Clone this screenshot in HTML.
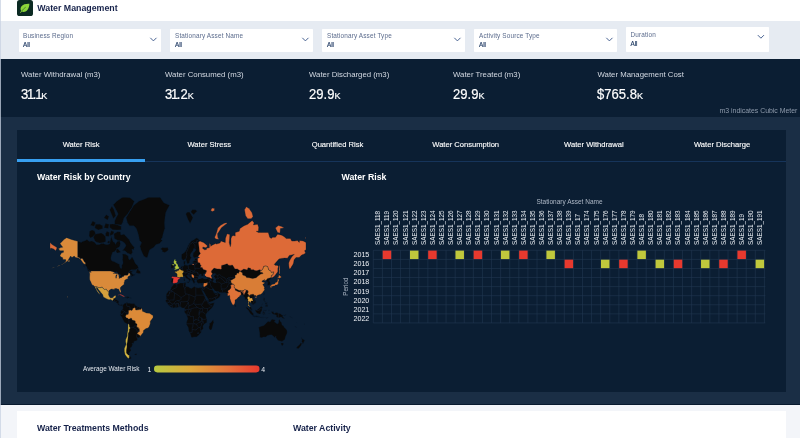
<!DOCTYPE html>
<html><head><meta charset="utf-8"><title>Water Management</title>
<style>
*{box-sizing:border-box;margin:0;padding:0}
html,body{width:800px;height:438px;overflow:hidden}
body{position:relative;background:#f3f5f9;font-family:"Liberation Sans",sans-serif;color:#16325c}
.abs{position:absolute}
.t{position:absolute;white-space:nowrap;line-height:1}
#hdr{left:0;top:0;width:800px;height:21px;background:#fff}
#fbar{left:0;top:21px;width:800px;height:38px;background:#e6ebf2}
.fb{position:absolute;top:28.5px;height:23.3px;width:142.5px;background:#fff;border-radius:.8px}
.fl{font-size:6.4px;color:#5b6b8c;letter-spacing:.15px}
.fv{font-size:6.3px;color:#16325c;-webkit-text-stroke:.15px #16325c}
#kpi{left:0;top:58.6px;width:800px;height:58.2px;background:#0b1e33}
#sec{left:0;top:116.8px;width:800px;height:287.9px;background:#1a2e45;border-bottom:1.2px solid #08192e}
#card{left:17px;top:129.5px;width:769px;height:262.3px;background:#0b1e33}
.kl{font-size:7.8px;color:#d3d9e2}
.kv{font-size:14.2px;color:#fff;-webkit-text-stroke:.2px #fff;transform:scaleX(.92);transform-origin:0 0}
.kv span{font-size:9.9px}
.kv i{font-style:normal;margin:0 -1.45px}
.tab{position:absolute;top:130.2px;width:128.2px;height:30px;text-align:center;font-size:7.6px;color:#fff;line-height:30px;-webkit-text-stroke:.12px #fff;white-space:nowrap}
#lstrip{left:0;top:0;width:1.4px;height:438px;background:rgba(200,210,225,.75)}
#wcard{left:17px;top:411px;width:769px;height:40px;background:#fff}
.h2{font-weight:bold;font-size:8.75px}
</style></head><body>
<div class="abs" id="hdr"></div>
<div class="abs" id="fbar"></div>
<div class="abs" id="kpi"></div>
<div class="abs" id="sec"></div>
<div class="abs" id="card"></div>
<div class="abs" id="wcard"></div>

<!-- header -->
<div class="abs" style="left:16.9px;top:-.3px;width:16px;height:16.4px;border-radius:2.6px;background:#0b2a22"></div>
<svg class="abs" style="left:16.9px;top:0" width="16" height="16.1" viewBox="0 0 16 16.1"><path d="M12.4 3.8C9.5 3.6 6 4.2 4.3 6.6C3.2 8.2 3.4 9.8 4.2 10.9L3 12.6L3.5 13.1L4.9 11.5C6.5 12.3 8.8 11.9 10.2 10.2C11.8 8.3 12.4 6 12.4 3.8Z" fill="#8cd63a"/><path d="M4.7 11.1C5.8 9.5 7 8.3 8.7 7.2" stroke="#2c6a2a" stroke-width=".7" fill="none"/></svg>
<div class="t" style="left:37.3px;top:4.1px;font-size:8.8px;font-weight:bold;color:#16224a">Water Management</div>

<!-- filters -->
<div class="fb" style="left:18.5px"></div>
<div class="fb" style="left:170.3px"></div>
<div class="fb" style="left:322.3px"></div>
<div class="fb" style="left:474.3px"></div>
<div class="fb" style="left:626.2px;top:27.1px;height:25.2px;width:143.3px"></div>
<div class="t fl" style="left:23px;top:33px">Business Region</div><div class="t fv" style="left:23px;top:41.7px">All</div>
<div class="t fl" style="left:175px;top:33px">Stationary Asset Name</div><div class="t fv" style="left:175px;top:41.7px">All</div>
<div class="t fl" style="left:327px;top:33px">Stationary Asset Type</div><div class="t fv" style="left:327px;top:41.7px">All</div>
<div class="t fl" style="left:479px;top:33px">Activity Source Type</div><div class="t fv" style="left:479px;top:41.7px">All</div>
<div class="t fl" style="left:630.5px;top:32.3px">Duration</div><div class="t fv" style="left:630.5px;top:40.6px">All</div>
<svg class="abs" style="left:0;top:0" width="800" height="60" viewBox="0 0 800 60" fill="none" stroke="#3f5b8c" stroke-width=".95" stroke-linecap="round" stroke-linejoin="round">
<path d="M150.6 38.1l2.8 2.8 2.8-2.8"/><path d="M302.6 38.1l2.8 2.8 2.8-2.8"/><path d="M454.6 38.1l2.8 2.8 2.8-2.8"/><path d="M606.6 38.1l2.8 2.8 2.8-2.8"/><path d="M758.1 35.4l2.8 2.8 2.8-2.8"/></svg>

<!-- KPIs -->
<div class="t kl" style="left:21px;top:71.2px">Water Withdrawal (m3)</div><div class="t kv" style="left:20.5px;top:87px">3<i>1</i>.<i>1</i><span>K</span></div>
<div class="t kl" style="left:165px;top:71.2px">Water Consumed (m3)</div><div class="t kv" style="left:164.5px;top:87px">3<i>1</i>.2<span>K</span></div>
<div class="t kl" style="left:309px;top:71.2px">Water Discharged (m3)</div><div class="t kv" style="left:308.5px;top:87px">29.9<span>K</span></div>
<div class="t kl" style="left:453px;top:71.2px">Water Treated (m3)</div><div class="t kv" style="left:452.5px;top:87px">29.9<span>K</span></div>
<div class="t kl" style="left:597.5px;top:71.2px">Water Management Cost</div><div class="t kv" style="left:597px;top:87px">$765.8<span>K</span></div>
<div class="t" style="right:2.7px;top:107.7px;font-size:6.9px;color:#8f9bac">m3 indicates Cubic Meter</div>

<!-- tabs -->
<div class="tab" style="left:17px">Water Risk</div>
<div class="tab" style="left:145.2px">Water Stress</div>
<div class="tab" style="left:273.4px">Quantified Risk</div>
<div class="tab" style="left:401.6px">Water Consumption</div>
<div class="tab" style="left:529.8px">Water Withdrawal</div>
<div class="tab" style="left:658px">Water Discharge</div>
<div class="abs" style="left:17px;top:160.9px;width:769px;height:.8px;background:#16345a"></div>
<div class="abs" style="left:17px;top:159.1px;width:128.2px;height:2.6px;background:#379ff0"></div>

<div class="t h2" style="left:37px;top:172.8px;color:#fff">Water Risk by Country</div>
<div class="t h2" style="left:341.5px;top:172.8px;color:#fff">Water Risk</div>

<svg class="abs" style="left:0;top:0" width="800" height="438" viewBox="0 0 800 438">
<defs><clipPath id="mc"><rect x="48" y="197.4" width="260" height="175"/></clipPath><linearGradient id="lg" x1="0" x2="1" y1="0" y2="0"><stop offset="0" stop-color="#b7c940"/><stop offset=".35" stop-color="#dba53a"/><stop offset=".7" stop-color="#e3703a"/><stop offset="1" stop-color="#e8392e"/></linearGradient></defs>
<g clip-path="url(#mc)" stroke="#0b1e33" stroke-width="0.3" stroke-linejoin="round">
<path d="M199.9 240.9L201.5 241.7L203.6 242.5L207.2 245.4L207.2 247.0L205.4 247.8L202.9 247.0L202.7 248.5L204.7 249.8L206.4 249.5L206.8 248.1L209.3 247.8L209.4 244.5L208.9 243.3L210.7 244.5L210.7 246.3L212.1 245.2L215.7 243.5L216.4 244.1L220.0 242.9L221.0 240.9L223.5 241.9L225.3 242.5L225.4 238.4L227.1 233.8L229.8 234.5L229.6 238.4L229.2 242.5L230.3 246.7L231.0 243.5L231.0 238.4L232.0 236.1L233.8 235.4L235.2 236.1L235.2 232.5L239.2 231.3L239.9 228.6L244.1 225.7L247.7 224.3L252.2 220.4L254.1 222.7L253.4 224.9L257.6 224.3L258.7 227.2L258.4 231.3L256.2 231.3L258.4 232.5L261.9 232.5L265.5 232.5L268.3 232.5L269.7 237.3L271.2 238.4L272.6 237.3L275.4 237.3L277.6 234.2L281.8 235.2L284.7 237.0L286.1 238.6L290.4 238.4L291.8 241.1L294.6 241.1L297.5 240.5L299.2 242.5L299.6 240.5L303.2 240.9L306.0 242.5L306.0 249.8L304.6 250.7L305.6 253.1L303.9 254.2L301.7 254.9L299.2 257.5L296.0 257.5L294.3 259.6L293.9 260.7L293.6 262.7L293.1 264.2L291.6 266.6L290.7 268.3L289.4 268.9L288.9 266.6L288.7 262.9L289.6 260.6L291.8 256.8L294.3 254.3L291.8 254.9L289.3 255.4L287.5 258.2L284.7 258.1L281.5 258.4L279.0 258.9L276.1 262.3L274.2 264.4L275.8 265.4L277.2 265.2L278.5 266.4L277.9 268.3L277.8 271.7L276.1 274.1L274.4 276.3L272.6 277.5L271.2 277.7L270.9 277.9L270.2 278.7L270.2 279.5L268.7 280.3L269.3 281.3L270.1 282.8L270.1 284.3L269.2 284.9L267.7 285.2L267.7 284.2L267.8 283.0L267.9 282.3L266.7 282.0L266.9 280.7L266.4 280.1L264.4 281.1L264.6 279.4L263.0 280.6L261.8 281.0L262.5 282.1L263.7 282.2L265.1 282.7L263.7 283.7L262.8 284.6L263.9 286.3L264.6 287.6L264.0 288.4L264.8 289.0L264.4 290.2L263.3 291.6L262.6 292.7L261.6 293.8L260.5 294.5L259.1 294.8L257.3 295.5L256.4 296.5L256.0 295.5L254.8 295.5L253.9 296.3L253.2 297.4L254.1 299.1L255.4 300.2L255.8 302.0L255.5 303.0L254.1 303.8L252.9 305.0L252.6 304.1L251.6 303.6L251.2 302.8L249.8 302.1L249.5 301.5L249.1 301.7L248.8 303.3L248.5 304.4L249.3 305.3L249.5 306.1L250.5 306.7L251.5 308.0L251.6 309.4L252.1 310.2L251.5 310.1L250.0 309.2L249.4 307.3L249.2 306.6L248.8 306.1L247.9 305.5L248.2 304.1L248.1 302.6L247.7 301.1L247.4 299.3L246.3 299.1L245.1 299.7L245.2 298.2L244.5 296.8L243.6 296.1L243.2 294.8L242.4 294.9L241.3 295.3L239.9 295.5L239.7 296.5L238.6 297.1L236.5 299.2L235.0 300.0L235.1 301.7L234.7 303.8L234.2 304.6L233.6 304.8L233.1 305.4L232.3 304.2L231.3 302.4L230.6 300.4L229.9 298.6L229.8 297.4L229.7 295.9L229.4 295.3L228.1 296.1L227.1 294.9L228.0 294.4L226.5 293.8L225.8 293.0L225.3 292.5L222.1 292.7L221.7 292.8L218.7 292.3L218.4 291.2L216.8 291.6L214.6 290.6L213.7 288.8L212.8 288.5L212.1 288.9L212.5 290.1L213.6 291.5L213.7 292.3L214.1 293.0L214.4 292.0L214.7 293.1L216.4 293.5L217.8 292.0L218.1 293.0L219.7 293.9L220.5 294.8L219.6 296.4L219.0 297.4L217.3 298.6L215.1 299.7L212.6 301.1L210.0 302.0L208.9 302.1L208.4 300.4L208.2 299.3L207.2 297.4L205.9 295.5L204.5 292.8L203.0 290.4L202.8 289.2L202.5 290.4L202.3 290.7L201.6 290.0L201.1 288.9L201.0 287.8L202.3 287.7L202.9 286.5L203.3 285.2L203.5 284.2L203.7 283.3L202.5 283.1L201.1 283.6L199.8 283.0L198.8 283.5L197.5 282.8L196.7 281.7L197.1 280.7L196.6 280.1L197.6 279.7L198.6 279.4L198.6 279.2L197.6 279.2L197.0 279.7L196.5 279.4L195.4 279.3L194.9 280.1L194.1 279.7L194.2 280.8L194.7 281.5L195.1 282.2L194.4 282.4L194.2 283.3L193.4 283.0L193.1 281.7L192.4 280.5L191.9 279.8L191.8 278.4L191.2 277.8L189.7 276.9L188.9 276.1L188.3 275.1L187.7 275.3L187.7 274.6L186.8 274.9L186.8 276.0L187.7 276.8L188.5 278.1L189.4 278.3L191.1 279.7L191.1 280.2L190.1 279.7L189.8 280.4L190.2 281.0L189.7 281.6L189.2 281.9L189.4 281.2L189.1 280.1L187.8 279.0L186.7 278.4L185.5 277.4L185.3 276.4L184.3 275.9L183.3 276.5L182.4 277.2L181.2 276.9L180.3 277.1L180.2 277.8L180.3 278.3L178.6 279.2L177.8 280.6L178.0 281.3L177.5 282.3L176.4 283.1L174.8 283.1L174.0 283.7L173.5 283.2L172.7 282.7L171.7 282.8L171.2 281.2L171.7 279.9L171.7 278.2L171.5 277.3L172.3 276.6L173.9 276.7L175.3 276.8L176.8 276.9L177.1 275.7L177.1 274.3L176.2 272.9L174.9 272.4L174.7 271.8L175.9 271.3L176.9 271.4L176.8 270.4L177.1 270.7L178.1 270.6L179.1 269.9L179.1 269.1L179.8 268.8L180.3 268.6L181.0 267.8L181.6 266.4L183.0 266.1L184.0 265.9L184.1 264.8L183.8 263.5L183.8 261.6L185.5 261.0L185.0 263.5L185.1 264.8L185.8 265.4L186.5 265.2L188.1 265.5L189.7 264.8L191.2 264.5L192.1 264.9L192.9 263.8L192.9 261.9L194.0 260.8L195.3 260.6L194.7 259.4L195.4 258.4L197.9 258.2L199.5 257.5L198.3 256.8L197.8 256.7L195.8 257.3L194.4 257.7L193.3 256.8L193.1 255.4L193.3 253.1L195.1 251.5L196.0 249.8L195.1 248.5L193.6 248.6L192.9 250.7L191.5 252.6L190.2 254.6L190.3 256.5L191.4 257.8L190.1 259.4L189.7 261.0L189.4 262.7L188.2 263.5L187.2 263.7L186.9 262.5L186.2 260.3L185.8 258.9L185.5 258.7L184.0 260.0L183.0 260.3L181.9 258.9L181.6 257.5L181.6 254.6L183.0 253.4L184.8 252.3L186.2 250.2L187.2 248.1L188.3 245.4L189.4 243.5L191.5 240.9L193.6 239.9L196.3 238.1L197.9 238.4Z" fill="#0a0a0a"/>
<path d="M264.0 292.8L264.7 292.8L264.4 294.0L263.9 295.2L263.4 294.4L263.9 293.1Z" fill="#0a0a0a" fill-opacity=".55"/>
<path d="M234.7 304.3L235.7 305.1L236.2 306.2L235.2 307.0L234.7 305.9Z" fill="#0a0a0a" fill-opacity=".55"/>
<path d="M170.9 268.0L172.0 268.2L173.5 267.5L173.7 266.0L173.5 265.4L174.1 264.9L173.7 263.9L172.3 263.9L172.0 264.8L170.9 265.2L171.2 266.4Z" fill="#0a0a0a"/>
<path d="M186.9 281.9L189.1 281.8L188.8 283.1L186.9 282.3Z" fill="#0a0a0a"/>
<path d="M183.8 279.2L184.9 279.2L184.8 280.9L184.0 281.0Z" fill="#0a0a0a"/>
<path d="M184.1 277.8L184.7 277.3L184.8 278.7L184.3 278.7Z" fill="#0a0a0a" fill-opacity=".55"/>
<path d="M194.7 284.2L196.7 284.3L196.5 284.6L194.8 284.4Z" fill="#0a0a0a" fill-opacity=".55"/>
<path d="M201.0 284.6L202.5 284.1L202.1 284.7L201.1 284.9Z" fill="#0a0a0a" fill-opacity=".55"/>
<path d="M160.6 249.0L162.4 247.4L165.2 247.8L167.7 247.6L168.4 249.8L167.3 251.0L164.8 252.4L162.0 251.6L162.4 250.2Z" fill="#0a0a0a"/>
<path d="M185.8 213.9L188.0 219.4L190.1 223.6L192.9 217.7L191.2 214.7L189.4 211.9L187.2 212.3Z" fill="#0a0a0a"/>
<path d="M190.8 211.9L193.6 214.7L197.2 211.1L195.1 209.8L192.2 209.8Z" fill="#0a0a0a"/>
<path d="M201.1 288.9L201.0 287.8L200.0 287.6L198.6 288.1L195.8 287.5L194.4 286.6L192.2 288.0L191.5 288.6L189.0 287.6L188.8 286.9L186.5 286.5L185.8 285.9L185.3 285.5L185.8 284.2L185.7 282.8L185.0 282.6L183.7 282.9L181.6 283.0L180.1 282.9L178.0 283.9L176.6 284.5L174.2 283.8L173.7 284.0L173.0 285.5L171.2 287.6L171.0 289.0L169.8 290.3L168.8 290.7L167.5 292.4L166.6 293.8L165.9 295.9L166.4 297.4L166.3 299.7L165.6 300.6L166.1 302.2L167.3 303.5L168.5 305.0L169.8 306.3L171.6 307.6L172.7 308.1L175.2 307.5L176.6 307.8L178.7 307.1L179.8 306.7L181.2 306.7L181.9 307.9L183.0 308.1L184.2 308.0L184.9 308.7L184.8 310.5L184.4 311.7L185.0 313.0L186.4 314.5L186.7 315.5L187.5 317.5L187.8 319.1L186.9 320.9L186.4 323.1L186.5 324.6L188.3 327.6L188.7 330.8L190.1 333.2L191.0 335.7L191.1 337.1L192.2 337.6L194.0 336.9L196.3 336.9L197.9 335.9L199.7 334.0L201.1 332.4L201.4 330.4L203.2 328.8L202.9 326.1L204.3 324.1L206.8 322.4L206.8 319.1L206.1 316.9L205.7 315.1L206.8 313.0L207.9 311.8L209.6 310.1L211.8 308.0L213.2 305.9L214.4 302.7L212.8 303.1L210.0 303.7L208.8 302.9L208.7 302.1L207.2 300.6L206.1 300.0L205.4 298.2L204.5 296.3L204.3 295.2L203.4 293.7L202.2 291.2Z" fill="#0a0a0a"/>
<path d="M213.1 319.8L213.8 322.4L213.2 323.8L211.8 329.2L210.4 330.0L209.1 328.8L208.8 326.9L209.6 325.3L209.3 323.5L211.1 322.5L212.1 320.9Z" fill="#0a0a0a"/>
<path d="M258.7 327.2L259.2 330.4L259.8 334.4L259.8 337.2L261.9 337.8L263.3 336.9L265.8 336.9L267.6 335.5L269.7 334.9L271.5 334.8L273.3 335.9L274.4 337.6L275.1 336.9L276.0 335.9L275.8 338.1L276.5 338.2L277.3 339.7L278.6 340.7L280.4 340.9L282.0 341.4L283.2 340.4L284.7 339.8L285.2 337.8L285.7 336.1L286.8 334.0L287.2 332.0L286.8 330.0L285.4 328.6L284.3 327.5L283.6 325.9L282.0 325.0L281.8 323.8L281.3 322.0L280.3 321.5L279.3 318.9L278.8 320.5L278.6 322.4L278.1 323.8L276.8 323.8L275.8 322.7L274.4 322.0L275.3 319.9L274.0 319.8L272.2 319.3L271.2 320.0L270.2 321.8L269.0 321.8L268.2 321.3L266.9 322.4L265.8 323.7L264.9 324.4L264.0 325.5L261.2 326.3L259.4 327.1Z" fill="#0a0a0a"/>
<path d="M280.9 342.9L283.4 343.0L283.2 345.1L282.2 345.7L281.3 344.5Z" fill="#0a0a0a"/>
<path d="M300.8 337.3L302.1 338.8L303.0 339.3L304.8 340.2L303.9 341.8L303.4 343.2L302.4 343.8L302.3 342.1L301.6 341.6L302.2 340.0Z" fill="#0a0a0a"/>
<path d="M300.8 342.8L301.9 343.7L300.9 345.7L299.6 347.6L298.2 348.8L296.4 348.1L297.5 346.3L299.2 344.9Z" fill="#0a0a0a"/>
<path d="M271.2 311.8L273.3 311.8L274.0 313.5L276.1 312.4L278.3 313.0L280.8 313.9L281.8 315.1L283.1 315.6L282.5 316.2L283.6 317.6L285.0 318.7L282.9 318.3L281.1 316.8L279.7 317.6L278.3 317.8L276.8 317.1L276.1 317.1L276.7 316.0L276.1 315.1L274.4 314.4L272.6 314.0L272.2 313.2Z" fill="#0a0a0a"/>
<path d="M255.5 310.1L256.9 310.0L258.4 308.9L260.1 307.6L261.2 306.2L262.6 307.5L261.8 308.7L261.9 310.5L260.8 312.3L260.5 313.9L259.4 314.0L257.3 313.3L256.2 312.3L255.5 311.0Z" fill="#0a0a0a"/>
<path d="M245.8 307.3L247.3 307.5L249.5 309.6L251.6 311.2L252.3 312.6L253.4 313.5L253.2 315.3L252.3 315.3L250.7 314.0L249.5 312.3L248.2 310.1L247.0 308.9Z" fill="#0a0a0a"/>
<path d="M252.8 316.0L253.9 315.5L255.2 315.9L256.8 315.8L258.1 316.2L259.4 316.8L259.3 317.3L256.9 317.1L254.8 316.8L253.7 316.5Z" fill="#0a0a0a" fill-opacity=".55"/>
<path d="M263.0 311.2L263.9 310.3L266.5 310.3L266.9 310.1L265.8 311.0L264.0 310.8L263.5 311.8L264.4 311.9L265.7 311.8L264.6 312.6L265.3 314.3L264.5 314.6L264.0 313.2L263.5 313.3L263.6 315.1L263.0 315.1L262.9 313.7L262.5 313.2Z" fill="#0a0a0a" fill-opacity=".55"/>
<path d="M263.7 297.8L264.9 297.9L264.8 299.3L264.5 301.0L266.2 301.9L266.0 302.2L264.4 301.4L263.8 300.9L263.3 299.7Z" fill="#0a0a0a" fill-opacity=".55"/>
<path d="M264.8 306.2L265.8 305.1L267.2 304.3L268.0 305.9L267.2 307.1L266.2 306.6Z" fill="#0a0a0a" fill-opacity=".55"/>
<path d="M264.8 302.7L265.6 303.0L267.2 302.2L267.1 303.7L265.8 304.4L265.1 303.8Z" fill="#0a0a0a" fill-opacity=".55"/>
<path d="M261.3 305.2L263.0 303.5L263.1 303.8L261.6 305.3Z" fill="#0a0a0a" fill-opacity=".55"/>
<path d="M265.8 318.6L266.9 317.6L268.3 317.2L268.0 317.8L266.5 318.5Z" fill="#0a0a0a" fill-opacity=".55"/>
<path d="M260.1 317.1L261.6 317.1L262.6 317.2L264.0 317.2L265.5 317.1L265.3 317.4L263.3 317.6L261.2 317.6L260.1 317.4Z" fill="#0a0a0a" fill-opacity=".55"/>
<path d="M268.7 309.9L269.4 310.3L269.0 311.6L268.7 310.8Z" fill="#0a0a0a" fill-opacity=".55"/>
<path d="M267.6 313.5L269.0 313.3L270.8 313.5L269.7 313.8Z" fill="#0a0a0a" fill-opacity=".55"/>
<path d="M283.6 315.1L285.0 315.1L286.2 314.2L285.7 315.3L284.3 315.7Z" fill="#0a0a0a" fill-opacity=".55"/>
<path d="M289.3 316.2L291.1 317.1L292.8 318.3L292.1 318.0L290.0 316.8Z" fill="#0a0a0a" fill-opacity=".55"/>
<path d="M294.6 325.9L296.4 327.1L296.8 327.6L295.3 326.9Z" fill="#0a0a0a" fill-opacity=".55"/>
<path d="M304.1 323.8L305.0 323.9L304.8 324.4L304.2 324.3Z" fill="#0a0a0a" fill-opacity=".55"/>
<path d="M296.5 322.0L297.0 322.6L297.2 323.1L296.8 322.6Z" fill="#0a0a0a" fill-opacity=".55"/>
<path d="M77.7 241.3L81.3 242.5L82.7 241.5L85.6 240.5L87.0 239.4L89.1 241.5L92.0 240.9L94.8 242.5L96.2 244.5L99.8 244.5L101.2 243.5L103.3 243.5L105.5 244.5L108.3 244.5L109.7 243.9L110.4 240.5L111.2 236.6L112.6 240.5L113.3 241.9L114.7 242.5L115.4 244.5L117.2 241.5L119.7 241.1L120.4 243.5L119.7 246.3L118.3 247.6L116.8 248.1L116.1 249.8L114.7 251.5L112.6 252.3L111.2 256.1L110.8 258.9L111.9 261.0L114.0 261.6L117.6 263.5L119.5 264.2L119.7 266.6L120.8 268.6L121.8 268.3L121.8 265.4L123.2 262.9L122.5 259.6L122.9 257.5L122.5 254.0L125.4 254.2L128.2 256.1L128.6 258.9L129.6 259.9L131.4 258.2L132.1 257.1L133.9 260.3L135.3 263.5L137.5 265.4L138.4 267.8L136.8 268.9L135.3 269.8L132.5 269.8L130.7 269.8L129.3 271.3L127.9 273.2L130.4 271.1L132.1 271.1L132.1 272.2L131.1 272.2L131.8 273.2L132.5 274.3L134.3 274.8L135.3 273.8L134.6 275.1L132.8 275.8L131.1 276.8L131.1 275.8L132.1 274.8L130.4 275.3L130.4 275.3L129.8 273.2L128.8 272.8L127.9 274.8L127.2 275.3L124.7 275.3L123.6 276.1L121.7 277.0L121.8 277.5L119.0 278.2L119.3 277.3L119.3 275.0L118.3 274.0L117.7 273.5L115.1 272.0L114.4 272.2L110.4 271.1L90.5 271.1L89.1 270.0L87.3 268.9L87.0 267.2L85.6 265.4L85.2 264.4L85.6 262.9L84.1 261.6L83.1 259.6L82.0 258.2L80.6 258.9L79.2 257.5L77.7 257.1Z" fill="#0a0a0a"/>
<path d="M131.1 254.6L127.5 253.1L125.0 250.8L122.5 250.5L124.7 248.1L126.1 245.4L124.7 242.9L121.8 240.9L117.9 240.5L114.4 238.4L114.0 233.8L117.6 231.8L120.4 232.0L120.8 235.0L124.0 234.2L126.8 237.3L129.3 239.9L130.4 242.5L133.2 246.3L134.3 247.2L133.6 249.8L131.8 249.0L132.5 252.3Z" fill="#0a0a0a"/>
<path d="M105.8 241.5L103.3 242.5L99.8 243.1L96.2 241.9L94.8 240.5L93.4 237.3L94.8 234.2L97.6 233.8L101.2 233.0L103.3 234.2L105.5 236.8Z" fill="#0a0a0a"/>
<path d="M89.1 236.1L90.5 237.9L93.0 236.6L95.5 233.8L94.4 230.7L92.0 229.9L89.5 231.3Z" fill="#0a0a0a"/>
<path d="M94.8 228.0L98.4 229.9L102.6 228.6L102.6 225.7L99.8 224.3L95.5 224.3Z" fill="#0a0a0a"/>
<path d="M105.5 236.1L109.0 236.6L109.4 232.5L106.9 231.3L105.5 233.8Z" fill="#0a0a0a"/>
<path d="M110.1 235.7L113.3 234.2L114.0 231.8L111.2 230.7L110.1 233.8Z" fill="#0a0a0a"/>
<path d="M107.2 242.5L109.0 243.3L110.1 241.9L108.7 240.7Z" fill="#0a0a0a"/>
<path d="M104.0 227.8L108.3 228.6L109.0 224.3L105.5 223.6Z" fill="#0a0a0a"/>
<path d="M109.7 227.2L112.6 229.7L117.6 229.9L121.1 229.7L121.1 226.3L115.4 224.3L112.6 223.9L109.7 224.3Z" fill="#0a0a0a"/>
<path d="M114.7 224.3L121.1 224.9L122.5 222.7L124.0 217.7L127.5 213.9L131.8 207.6L134.3 201.2L129.6 197.4L123.2 196.8L116.8 201.2L113.3 204.8L116.1 209.8L118.3 213.9L116.1 217.7L114.7 221.1Z" fill="#0a0a0a"/>
<path d="M109.7 209.8L113.3 218.4L115.8 215.8L114.0 209.8L111.9 206.2Z" fill="#0a0a0a"/>
<path d="M104.0 217.7L107.6 220.1L109.0 216.6L106.2 214.7Z" fill="#0a0a0a"/>
<path d="M90.5 225.2L94.1 226.3L95.5 222.7L92.7 221.1Z" fill="#0a0a0a"/>
<path d="M116.5 248.6L118.3 249.3L120.0 251.5L121.0 252.0L119.3 252.4L117.6 253.1L116.1 252.0Z" fill="#0a0a0a"/>
<path d="M135.8 272.5L138.2 273.5L140.3 273.6L140.5 272.5L140.0 270.9L138.5 270.2L138.2 268.3L137.1 269.5L136.4 271.3Z" fill="#0a0a0a"/>
<path d="M86.8 269.2L89.1 269.8L90.2 271.7L89.3 271.7Z" fill="#0a0a0a"/>
<path d="M83.4 265.4L84.3 265.4L84.7 267.5L83.9 266.8Z" fill="#0a0a0a" fill-opacity=".55"/>
<path d="M132.1 270.1L134.1 270.9L133.2 270.9Z" fill="#0a0a0a" fill-opacity=".55"/>
<path d="M126.1 217.7L129.6 211.9L133.9 205.3L138.9 201.2L146.0 198.5L154.5 193.7L160.2 197.4L163.8 202.8L169.5 205.3L165.9 211.9L165.2 215.8L164.5 222.7L164.8 228.6L163.1 233.8L162.4 237.3L160.9 239.4L162.4 240.5L159.5 243.5L156.0 244.5L153.8 247.2L151.7 248.6L149.6 249.8L148.8 252.3L147.4 257.3L146.0 257.5L143.9 256.1L142.4 253.1L141.0 249.8L140.0 246.3L141.7 242.5L139.6 240.5L139.2 238.4L138.2 233.8L136.4 228.6L133.9 225.7L129.6 225.7L127.5 222.7Z" fill="#0a0a0a"/>
<path d="M112.4 300.7L113.6 299.6L113.3 298.8L114.6 298.3L115.2 297.8L115.2 299.7L114.8 299.8L116.8 299.7L118.8 300.4L118.6 302.2L118.5 303.3L119.3 304.4L120.4 304.9L121.5 304.4L123.0 305.0L122.6 306.1L122.2 305.1L121.1 306.0L120.8 305.5L119.0 305.3L117.6 304.1L117.0 303.3L115.8 301.9L114.4 301.5Z" fill="#0a0a0a"/>
<path d="M125.1 297.8L126.1 296.8L128.2 296.8L129.4 297.7L127.5 298.2Z" fill="#0a0a0a"/>
<path d="M122.3 297.9L123.7 298.0L123.2 298.3Z" fill="#0a0a0a" fill-opacity=".55"/>
<path d="M130.2 297.8L131.3 297.9L131.1 298.2L130.2 298.2Z" fill="#0a0a0a" fill-opacity=".55"/>
<path d="M123.0 305.0L124.3 303.6L126.1 303.0L127.2 302.3L127.5 303.3L129.6 303.2L132.5 303.7L133.9 303.5L135.3 305.1L137.5 306.9L139.6 307.1L141.4 308.0L142.4 309.9L142.4 311.2L143.9 311.8L146.4 313.0L149.6 313.2L151.7 314.8L153.1 315.5L153.1 317.6L151.7 319.4L150.3 321.3L150.3 323.8L149.2 326.5L148.1 328.0L146.0 328.6L143.5 330.4L143.3 332.4L141.7 334.4L140.0 336.8L138.9 337.8L137.5 337.4L136.5 336.9L137.5 339.1L137.0 340.6L133.9 341.4L133.7 343.2L131.8 343.2L132.6 344.6L131.6 347.1L130.0 348.1L131.1 350.2L128.9 352.9L129.3 355.0L131.4 358.1L130.4 358.9L128.2 358.5L126.8 357.0L125.0 354.6L124.3 351.3L124.3 348.6L126.1 344.2L125.6 341.8L125.7 339.6L127.2 336.1L127.2 333.6L127.9 330.4L128.0 324.4L126.8 323.5L124.7 322.4L123.7 321.1L122.9 319.4L121.8 317.1L120.4 315.5L120.2 314.4L121.1 313.5L120.5 312.8L121.1 310.6L122.0 310.1L123.0 308.4L122.9 306.6L122.6 306.1Z" fill="#0a0a0a"/>
<path d="M134.6 354.1L136.8 353.8L136.4 354.9L135.0 354.9Z" fill="#0a0a0a"/>
<path d="M134.1 303.5L134.6 303.5L134.5 304.0Z" fill="#0a0a0a" fill-opacity=".55"/>
<path d="M176.6 284.5L177.1 286.7L175.5 288.0L171.8 289.9L171.8 291.0M171.8 290.7L168.8 290.7M171.8 291.0L171.8 292.0L169.5 292.0L169.5 294.0L168.8 294.4L168.8 295.7L165.9 295.9M171.8 291.0L174.6 292.8L174.0 299.4L174.2 300.0L171.4 300.0L170.4 300.1L169.8 300.0L169.3 300.6M166.3 299.7L167.7 299.2L169.3 300.6L169.9 302.3M166.1 302.2L169.9 302.3L172.3 303.9L172.1 305.9L172.7 308.1M168.5 304.8L170.5 305.3L169.8 306.3M170.5 305.3L172.1 305.9M167.3 303.4L168.3 302.8L168.3 302.3M174.6 292.8L178.9 295.8L180.3 296.8L181.0 297.4L181.0 299.3L180.5 300.1L178.1 300.4L176.2 301.0L174.8 302.1L174.1 303.8L172.3 303.9M176.0 307.6L176.1 304.4L176.0 303.3L178.0 303.3L178.9 306.9M174.1 303.8L176.1 304.3M178.1 300.4L179.6 302.3L180.6 302.8L179.9 306.6M178.0 303.3L178.6 303.3L179.1 306.8M180.6 302.8L180.8 301.5L183.0 301.9L185.1 301.7L187.6 301.4L188.3 302.2L187.2 304.4L186.2 306.4L184.2 308.0M181.0 297.4L182.1 297.1L186.5 294.0L185.1 293.2L185.0 290.4L184.8 288.7L186.2 286.2M184.8 288.7L183.3 285.9L184.0 282.9M186.5 294.0L188.7 294.4L195.1 297.1L195.1 296.7L195.8 296.7L195.8 295.2L195.8 287.5M195.8 295.2L204.3 295.2M188.7 294.4L189.0 296.3L189.0 299.1L187.6 301.4M195.1 297.1L195.1 299.9L194.0 301.1L194.0 303.3L191.5 304.8L189.0 305.9L188.7 304.1L188.3 302.2M189.0 305.9L188.3 307.3L189.4 309.6L187.5 309.6L185.0 309.6M185.0 310.5L186.0 310.5L186.0 309.6M194.0 303.3L195.1 305.1L197.5 307.6L194.4 307.9L191.2 308.7L190.7 311.6L189.5 312.6L189.4 314.4L187.2 314.5L186.7 315.3M189.4 309.6L191.2 308.7M186.4 314.0L188.2 312.6L188.2 310.3L187.5 309.6M194.7 304.2L197.9 304.4L201.5 304.1L202.2 304.4L204.0 300.9L205.4 298.2M204.0 300.9L206.4 300.8L208.2 302.2L208.6 302.1M202.2 304.4L201.5 305.5L203.5 307.9L202.2 308.2L199.9 308.7L197.5 307.6M203.5 307.9L205.7 308.7L207.8 308.4L208.6 308.0L210.0 307.6L212.1 305.5L211.4 305.5L209.3 304.8L208.4 303.4L208.8 302.9M208.4 303.4L207.7 303.3L208.2 302.2M207.8 308.4L207.2 311.2L207.5 312.4M202.2 308.2L202.9 310.1L202.2 311.2L202.2 311.9L204.7 313.3L205.9 314.5M199.9 308.7L200.3 309.6L199.1 311.6L199.0 312.2L198.8 313.3L199.0 315.5L199.9 317.1M202.2 311.9L199.7 311.9L199.0 312.2M199.7 311.9L199.9 312.9L198.8 313.1M199.9 312.9L199.6 314.3L198.9 314.3M199.9 317.1L201.4 317.9L202.2 318.0L202.5 319.4L205.0 319.3L206.8 318.7M199.9 317.1L198.5 317.3L198.2 318.0L198.4 319.8L199.2 319.9L199.2 320.8L197.6 320.0L195.1 319.1L195.1 320.5L193.6 320.5L193.6 319.1L193.5 316.4L191.9 316.2L190.8 316.9L189.8 315.4L187.2 315.4L186.7 315.5M193.6 320.5L193.6 322.9L194.6 323.9M186.4 323.7L188.0 323.8L191.2 323.8L194.6 323.9L196.0 324.1M192.9 324.4L192.9 327.2L192.2 327.2L192.2 329.4L192.2 332.3L189.7 332.4M192.2 329.4L194.4 329.8L196.2 330.0L197.2 328.5L198.9 327.4L197.6 326.1L196.0 324.1L197.2 324.2L198.6 322.6L199.6 322.4L201.5 323.2L201.3 325.3L200.3 327.6L198.9 327.4M200.3 327.6L200.8 329.2L200.8 331.0L201.4 331.1M199.6 322.4L199.5 321.8L201.6 321.3L201.4 317.9M202.5 319.4L202.8 320.9L203.5 322.7L203.1 323.5L202.4 322.7L202.5 321.6L201.6 321.3M197.2 333.3L198.3 332.4L198.9 333.3L197.9 334.1L197.2 333.3M200.0 331.3L200.8 331.0M188.1 265.5L188.5 268.9L188.7 269.1L191.4 270.6L194.1 271.1M184.1 264.3L185.0 264.4M183.0 266.2L182.3 268.0L182.3 269.1M180.3 268.6L182.1 268.7L182.3 269.1L182.5 270.6M188.7 269.1L186.6 269.7L187.8 271.4L187.2 272.7L184.8 272.7L183.3 272.6M187.8 271.4L190.1 271.5L190.1 272.2L189.4 273.3L187.7 273.8M184.8 272.7L185.5 273.5M190.1 271.5L191.4 270.6M190.1 272.2L191.4 272.4L193.8 271.8L194.1 271.1M194.7 265.4L194.8 267.8L195.1 269.5L194.1 271.1L194.3 272.2L196.9 272.0L198.1 274.8L199.1 275.0M196.9 272.0L199.3 273.9M194.8 268.2L199.7 268.4L200.6 267.5M194.7 265.4L196.8 263.5L197.9 262.5M192.9 262.8L196.8 263.3M195.3 260.6L197.6 261.0M194.1 264.9L194.7 265.4M194.3 272.2L192.4 274.2L194.0 275.8L194.1 276.1L198.3 276.6M189.4 273.3L189.7 273.9L191.4 274.4L192.4 274.2M187.7 273.8L189.7 273.9M187.7 274.9L188.9 274.8L189.7 273.9M191.4 274.4L191.5 275.4L189.2 275.1L189.4 276.3L191.2 277.8M191.5 275.4L191.8 276.8L191.2 277.8M194.1 276.1L193.9 277.9L194.3 278.9L196.7 278.5L197.9 278.2M196.7 278.5L196.5 279.4M191.8 276.8L192.4 277.5L193.9 277.9M192.6 278.3L194.3 278.9M192.9 279.3L194.3 278.9M186.0 258.9L186.9 255.4L186.5 252.3L188.3 248.1L189.7 244.5L192.6 242.5L194.9 244.7L195.1 248.5M192.6 242.5L193.3 241.9L196.3 243.1L196.5 240.7L197.9 240.3L198.6 242.3M207.5 278.7L208.9 279.1L209.9 280.4L209.5 282.0L209.9 282.7L208.1 282.7M208.9 279.1L211.1 279.1L211.1 278.4M209.9 280.4L211.1 281.1L212.1 280.5L212.8 281.6M210.0 279.0L211.1 281.1M209.9 282.7L210.7 283.9L210.4 285.5L212.0 287.6L212.5 288.8M205.6 286.0L205.9 287.0L209.8 289.5L211.1 289.6L211.9 288.8M211.1 289.6L212.4 290.0M205.9 287.0L204.3 287.6L205.0 288.4L203.6 289.5L202.8 289.2M203.5 286.5L203.2 287.6L202.8 289.2M202.8 289.2L202.3 287.7M203.0 286.2L203.5 286.1M208.4 299.4L209.3 298.6L211.4 298.9L215.0 297.4L215.8 299.2M215.0 297.4L217.1 296.7L217.6 295.2L217.3 294.6L215.4 294.5L214.7 293.5M217.3 294.6L217.8 292.9M214.1 293.0L214.4 293.1M216.3 282.6L217.8 281.9L220.7 283.2L221.5 284.1L221.0 285.7L221.3 287.6L221.9 288.2L221.3 289.0L222.9 291.1L221.8 292.7M221.3 289.0L225.1 289.0L227.3 287.2L227.8 285.5L228.8 283.4L231.2 282.7M221.5 284.1L223.9 283.5L225.3 282.5L226.4 282.8L228.8 281.5L228.8 283.1L231.2 282.7M215.3 278.5L217.5 278.9L217.8 278.9L217.8 275.3L219.7 274.7L221.4 275.9L222.1 276.8L224.9 277.8L225.3 279.1L226.4 279.4L227.1 278.8L228.5 277.9M217.8 275.3L215.8 275.0M228.5 277.7L230.3 277.3L231.3 277.4L235.0 278.0M227.1 278.8L228.5 277.7M217.8 278.9L219.6 277.6L220.7 278.0L222.0 279.1L223.9 281.0L225.3 282.5M226.4 282.8L226.2 280.6L228.1 279.9L228.5 280.2L230.5 280.5M228.1 279.9L229.9 279.4L228.5 277.9M249.2 296.4L250.0 295.8M250.7 294.8L252.0 296.4L252.7 297.7L254.4 300.6L253.4 303.3L252.3 303.8M253.0 300.9L254.4 300.8M255.9 309.8L257.3 310.5L259.6 310.1L260.5 308.1L261.8 308.2M278.3 313.0L278.3 317.8M243.6 296.1L243.8 295.2M247.2 290.3L248.2 292.2M269.2 281.3L268.1 282.1L266.9 281.9M114.8 299.8L114.5 300.9L115.6 301.6M115.8 301.9L116.8 301.2L117.9 300.6L118.8 300.4M117.1 303.3L118.5 303.4M119.0 305.4L119.3 304.3M114.5 300.9L113.9 301.3M126.4 303.2L126.5 304.8L126.8 306.2L130.0 306.8L130.1 309.6L130.4 310.1M122.0 310.1L124.3 311.2L124.5 311.3L125.7 312.8L128.2 313.0L128.2 314.3M121.0 313.6L120.9 314.4L122.2 314.8L122.7 313.3L124.3 312.3L124.5 311.3M135.3 305.1L134.4 306.9L134.8 307.5M137.3 306.9L136.8 308.4L137.8 309.8M139.6 307.1L139.2 308.7L139.6 309.6M127.9 319.1L128.9 320.2L128.9 322.4L128.6 323.8M130.4 328.0L131.8 327.2L133.6 327.5L133.9 326.1L136.6 325.7M133.6 327.5L136.8 329.6L137.1 331.4L138.3 331.5L139.2 330.0M137.0 333.7L136.5 336.9M129.2 358.0L129.2 355.3M125.4 296.9L127.0 296.9L126.9 298.2" fill="none" stroke="#14273f" stroke-width="0.45"/>
<path d="M199.9 240.9L201.5 241.7L203.6 242.5L207.2 245.4L207.2 247.0L205.4 247.8L202.9 247.0L202.7 248.5L204.7 249.8L206.4 249.5L206.8 248.1L209.3 247.8L209.4 244.5L208.9 243.3L210.7 244.5L210.7 246.3L212.1 245.2L215.7 243.5L216.4 244.1L220.0 242.9L221.0 240.9L223.5 241.9L225.3 242.5L225.4 238.4L227.1 233.8L229.8 234.5L229.6 238.4L229.2 242.5L230.3 246.7L231.0 243.5L231.0 238.4L232.0 236.1L233.8 235.4L235.2 236.1L235.2 232.5L239.2 231.3L239.9 228.6L244.1 225.7L247.7 224.3L252.2 220.4L254.1 222.7L253.4 224.9L257.6 224.3L258.7 227.2L258.4 231.3L256.2 231.3L258.4 232.5L261.9 232.5L265.5 232.5L268.3 232.5L269.7 237.3L271.2 238.4L272.6 237.3L275.4 237.3L277.6 234.2L281.8 235.2L284.7 237.0L286.1 238.6L290.4 238.4L291.8 241.1L294.6 241.1L297.5 240.5L299.2 242.5L299.6 240.5L303.2 240.9L306.0 242.5L306.0 249.8L304.6 250.7L305.6 253.1L303.9 254.2L301.7 254.9L299.2 257.5L296.0 257.5L294.3 259.6L293.9 260.7L293.6 262.7L293.1 264.2L291.6 266.6L290.7 268.3L289.4 268.9L288.9 266.6L288.7 262.9L289.6 260.6L291.8 256.8L294.3 254.3L291.8 254.9L289.3 255.4L287.5 258.2L284.7 258.1L281.5 258.4L279.0 258.9L276.1 262.3L274.2 264.4L275.8 265.4L277.2 265.2L278.5 266.4L277.9 268.3L277.8 271.7L276.1 274.1L274.4 276.3L272.6 277.5L271.2 277.7L270.9 277.9L271.2 276.8L271.3 275.3L272.6 275.1L273.8 271.9L271.2 272.5L270.8 271.1L268.7 270.0L267.6 266.6L265.8 266.0L263.7 266.4L263.2 268.3L261.8 270.5L261.0 270.2L259.4 269.8L256.9 270.8L254.8 270.6L253.7 269.7L250.9 269.7L250.5 268.3L248.0 267.8L247.3 270.0L243.8 269.1L241.6 270.4L240.2 270.9L238.8 270.0L237.4 268.9L234.9 268.9L233.1 266.0L232.4 265.0L230.3 265.4L228.6 265.2L227.1 263.8L224.4 264.8L221.6 265.4L221.4 267.8L221.7 268.9L220.5 269.2L219.1 268.9L217.1 268.9L214.6 268.3L214.1 268.1L212.5 269.8L211.4 271.1L211.4 272.2L212.5 273.7L212.8 274.0L211.8 274.8L211.4 275.8L211.8 277.3L212.5 278.3L211.1 278.4L209.3 277.6L206.4 276.9L204.7 275.6L204.2 275.0L205.0 273.8L205.7 273.0L205.2 273.0L206.3 272.2L206.4 270.5L205.0 270.0L203.2 269.5L202.2 267.4L200.6 267.5L200.4 266.4L201.3 266.0L200.0 264.2L199.9 262.9L197.9 262.5L197.7 261.0L197.6 258.5L197.9 258.2L199.5 257.5L198.3 256.8L197.8 256.7L200.4 253.4L199.3 251.5L199.0 247.2L198.6 244.5L198.3 242.5Z" fill="#dd6a37"/>
<path d="M50.0 242.5L52.1 244.5L55.0 246.3L57.1 247.8L55.7 250.7L53.6 249.0L50.7 248.1L50.0 249.8Z" fill="#dd6a37"/>
<path d="M214.6 237.3L215.7 239.0L218.9 239.2L217.8 237.3L217.5 233.8L219.2 231.3L221.4 227.8L224.9 224.9L227.1 223.6L226.4 222.7L224.2 223.3L220.7 225.2L217.8 228.0L216.8 231.8L215.7 235.0Z" fill="#dd6a37"/>
<path d="M245.6 215.8L247.7 218.7L251.2 218.7L253.0 216.6L252.0 212.7L249.1 208.5L246.3 206.7L244.5 209.8Z" fill="#dd6a37"/>
<path d="M210.7 210.3L212.1 211.5L214.3 210.7L214.6 208.5L212.1 208.1Z" fill="#dd6a37"/>
<path d="M275.4 228.0L277.6 232.5L280.0 233.0L280.4 228.6L284.0 228.0L285.0 228.6L281.8 226.6L278.3 225.5Z" fill="#dd6a37"/>
<path d="M304.9 237.9L306.0 237.3L306.0 238.6Z" fill="#dd6a37"/>
<path d="M279.0 265.0L279.7 266.6L280.0 269.5L279.7 271.1L280.0 273.5L279.3 274.3L279.0 272.2L279.0 268.9Z" fill="#dd6a37"/>
<path d="M192.1 264.9L192.9 263.8L194.1 264.3L194.0 265.0Z" fill="#dd6a37"/>
<path d="M266.4 280.1L264.4 281.1L264.6 279.4L263.0 280.6L261.8 281.0L262.5 282.1L263.7 282.2L265.1 282.7L263.7 283.7L262.8 284.6L263.9 286.3L264.6 287.6L264.0 288.4L264.8 289.0L264.4 290.2L263.3 291.6L262.6 292.7L261.6 293.8L260.5 294.5L259.1 294.8L257.3 295.5L256.4 296.5L256.0 295.5L254.8 295.5L253.8 295.2L253.9 294.5L252.9 294.2L252.0 294.6L250.9 294.6L250.4 294.8L250.0 295.8L249.3 295.5L248.5 295.2L248.3 294.2L247.4 293.4L248.2 292.2L248.1 290.8L247.2 290.3L245.9 290.0L244.8 289.8L243.4 290.6L241.3 291.0L241.1 290.5L239.2 290.4L237.7 289.8L235.6 288.7L234.3 288.0L234.0 286.7L234.2 285.2L233.5 284.2L232.0 283.7L231.2 282.7L231.0 281.5L230.5 280.5L232.0 279.7L233.8 278.7L235.0 278.0L235.2 277.3L234.9 275.3L236.5 274.8L237.0 273.0L238.8 273.2L238.9 271.9L240.2 270.9L240.6 271.7L242.4 272.7L242.7 275.1L245.6 276.1L246.6 277.6L249.1 277.7L252.7 278.6L256.2 277.7L257.5 276.6L259.1 275.3L260.8 274.0L263.1 273.6L262.3 272.4L260.1 272.2L260.5 270.2L261.8 270.5L263.2 268.3L263.7 266.4L265.8 266.0L267.6 266.6L268.7 270.0L270.8 271.1L271.2 272.5L273.8 271.9L272.6 275.1L271.3 275.3L271.2 276.8L270.9 277.8L270.2 277.8L269.0 278.2L267.6 278.5Z" fill="#d97d36"/>
<path d="M255.3 297.2L255.9 296.6L256.9 296.8L256.6 297.6L255.9 298.0L255.3 297.7Z" fill="#d97d36"/>
<path d="M241.3 295.3L239.9 295.5L239.7 296.5L238.6 297.1L236.5 299.2L235.0 300.0L235.1 301.7L234.7 303.8L234.2 304.6L233.6 304.8L233.1 305.4L232.3 304.2L231.3 302.4L230.6 300.4L229.9 298.6L229.8 297.4L229.7 295.9L229.4 295.3L228.1 296.1L227.1 294.9L228.0 294.4L226.5 293.8L227.9 293.4L228.5 293.1L227.8 291.6L228.0 290.4L229.8 289.4L230.6 288.4L231.0 287.2L230.8 286.3L230.6 285.0L232.8 284.2L233.5 284.2L234.2 285.2L234.0 286.7L234.3 288.0L235.6 288.7L235.0 290.0L237.0 291.1L238.4 291.7L240.6 291.9L240.7 290.6L241.1 290.5L241.3 291.0L241.9 291.5L243.4 291.3L243.4 290.6L244.8 289.8L245.9 290.0L246.3 290.8L245.6 291.8L245.2 292.8L244.5 293.8L244.1 294.9L243.8 295.0L243.6 294.0L242.9 294.2L243.1 293.5L243.7 292.8L242.0 292.6L241.9 292.0L240.9 291.7L240.7 292.4L241.1 293.2L241.1 294.4Z" fill="#df7238"/>
<path d="M251.2 302.8L249.8 302.1L249.5 301.5L249.1 301.7L248.8 303.3L248.5 304.4L249.3 305.3L249.5 306.1L250.5 306.7L250.0 307.1L249.2 306.6L248.8 306.1L247.9 305.5L248.2 304.1L248.1 302.6L248.5 301.5L247.8 300.3L248.1 299.4L247.3 298.2L247.5 297.1L248.4 296.5L249.2 296.4L249.5 297.1L250.0 297.1L249.8 298.3L250.7 298.1L251.9 298.0L252.5 298.7L252.5 299.4L253.0 300.0L253.0 300.9L251.2 300.9L250.8 301.5Z" fill="#e3a03a"/>
<path d="M270.4 286.1L270.2 286.6L270.6 287.8L271.4 287.7L271.8 286.1L272.4 286.5L273.4 286.1L274.6 285.9L275.4 284.9L276.7 284.9L277.6 284.4L278.2 284.0L278.3 281.7L279.0 280.5L278.6 278.8L277.8 279.0L277.6 280.3L277.2 281.7L275.6 282.8L275.3 282.6L274.7 283.9L272.6 284.2L271.2 285.1Z" fill="#e0752f"/>
<path d="M277.7 278.7L278.3 277.8L279.9 278.2L281.5 277.0L280.6 276.3L278.9 274.8L278.6 276.8L277.8 277.1Z" fill="#e0752f"/>
<path d="M203.5 284.2L203.7 283.3L204.1 283.0L205.4 283.0L206.8 282.8L208.1 282.7L207.4 283.4L207.3 284.9L205.6 286.0L204.2 286.9L203.5 286.5L203.3 285.2Z" fill="#e0752f"/>
<path d="M191.5 274.4L192.4 274.2L193.3 275.1L194.0 275.8L194.1 276.1L193.9 277.9L193.3 277.9L192.4 277.5L191.8 276.8L191.7 275.8L191.5 275.4Z" fill="#e0752f"/>
<path d="M176.8 276.9L177.1 275.7L177.1 274.3L176.2 272.9L174.9 272.4L174.7 271.8L175.9 271.3L176.9 271.4L176.8 270.4L177.1 270.7L178.1 270.6L179.1 269.9L179.1 269.1L179.8 268.8L181.0 270.0L182.5 270.6L183.8 271.1L183.3 272.6L182.3 274.0L183.0 274.4L183.0 275.3L183.3 276.5L182.4 277.2L181.2 276.9L180.3 277.1L180.2 277.8L178.5 277.5Z" fill="#c9952e"/>
<path d="M180.2 277.8L180.3 278.3L178.6 279.2L177.8 280.6L178.0 281.3L177.5 282.3L176.4 283.1L174.8 283.1L174.0 283.7L173.5 283.2L172.7 282.7L172.9 281.8L173.0 280.4L173.2 278.6L173.5 278.5L172.2 278.2L171.7 278.2L171.5 277.3L172.3 276.6L173.9 276.7L175.3 276.8L176.8 276.9L178.5 277.5Z" fill="#e83a34"/>
<path d="M174.1 269.9L175.5 269.7L176.9 269.2L179.0 268.7L179.2 266.9L178.2 266.6L177.9 264.8L176.9 263.5L176.2 262.9L176.7 261.0L175.2 260.7L175.7 259.5L174.4 259.5L173.9 261.0L173.6 262.3L174.1 263.5L174.6 264.4L175.7 264.4L175.9 266.0L174.8 266.2L174.9 267.4L174.3 268.0L175.5 268.4L174.8 268.9Z" fill="#b5c83f"/>
<path d="M172.3 263.9L173.7 263.9L174.1 264.9L173.5 265.4L172.7 265.2L172.3 264.8Z" fill="#b5c83f"/>
<path d="M77.7 241.3L74.9 240.5L71.3 239.4L66.7 237.7L64.2 239.2L62.1 241.5L60.0 243.5L61.4 245.4L62.8 247.2L60.7 247.6L58.5 248.8L60.0 250.7L63.5 250.7L63.5 252.3L61.4 253.1L60.0 255.4L60.7 256.8L62.8 257.8L62.8 259.5L65.6 259.5L66.0 261.0L64.2 262.9L62.1 264.2L60.7 265.0L62.8 264.2L65.6 262.3L67.8 261.0L68.8 258.9L70.6 256.1L72.0 257.5L74.2 256.1L75.6 257.5L78.4 258.0L80.6 259.6L82.0 261.6L83.4 263.5L85.2 264.4L85.6 262.9L84.1 261.6L83.1 259.6L82.0 258.2L80.6 258.9L79.2 257.5L77.7 257.1Z" fill="#d98a3a"/>
<path d="M60.3 265.2L58.5 266.0L57.1 266.8L57.8 266.1L60.0 264.9Z" fill="#d98a3a"/>
<path d="M55.0 267.4L52.8 268.0L51.4 268.2L53.6 267.5Z" fill="#d98a3a"/>
<path d="M68.1 260.6L69.8 260.3L69.6 261.4L68.3 261.9Z" fill="#d98a3a"/>
<path d="M67.1 296.5L67.8 296.8L67.4 297.5L67.0 297.0Z" fill="#d98a3a"/>
<path d="M90.5 271.1L110.4 271.1L114.4 272.2L115.1 272.0L117.7 273.5L118.3 274.0L119.3 275.0L119.3 277.3L119.0 278.2L121.8 277.5L121.7 277.0L123.6 276.1L124.7 275.3L127.2 275.3L127.9 274.8L128.8 272.8L129.8 273.2L130.4 275.3L128.2 276.6L127.7 277.8L128.2 278.5L126.8 279.0L125.4 279.7L124.3 281.0L124.7 281.7L124.0 282.8L124.2 284.2L122.9 285.3L121.5 286.3L120.4 287.6L120.2 288.8L120.8 290.4L121.1 291.6L120.8 292.7L120.0 292.0L119.2 290.4L118.6 289.0L117.6 289.1L116.5 288.5L114.7 288.6L114.4 289.5L112.9 289.2L111.2 289.1L109.0 290.4L108.8 292.0L107.2 290.8L106.2 289.1L104.8 289.6L103.7 289.1L102.3 287.3L101.1 287.3L101.1 287.7L99.1 287.7L96.4 286.7L94.7 286.7L93.7 285.5L92.2 285.0L91.2 283.0L90.9 282.1L89.8 280.1L89.6 277.8L89.8 274.1L89.3 271.8L90.5 272.0L90.9 272.7L90.9 271.7Z" fill="#d98a3a"/>
<path d="M94.7 286.7L96.4 286.7L99.1 287.7L101.1 287.7L101.1 287.3L102.3 287.3L103.7 289.1L104.8 289.6L106.2 289.1L107.2 290.8L108.8 292.0L108.5 294.8L109.7 297.2L110.8 298.0L112.6 297.7L113.5 297.1L113.8 295.9L116.1 295.5L115.6 297.8L115.2 297.8L114.6 298.3L113.3 298.8L113.6 299.6L112.4 300.7L110.8 299.5L109.0 299.8L106.9 298.9L105.5 298.2L103.3 297.1L103.0 295.5L102.3 294.0L100.8 292.6L100.1 291.4L98.4 289.6L97.6 288.0L96.4 287.3L96.4 288.8L97.8 290.8L99.1 292.4L99.8 294.0L99.8 294.4L98.4 293.0L96.9 291.1L96.2 289.6L95.5 288.4L94.7 286.7Z" fill="#d4a03c"/>
<path d="M117.6 295.2L119.0 294.4L120.8 294.3L123.2 295.5L125.2 296.5L122.9 296.8L122.5 296.1L121.1 295.4L119.7 294.8L118.3 295.3Z" fill="#e0453a"/>
<path d="M141.4 308.0L142.4 309.9L142.4 311.2L143.9 311.8L146.4 313.0L149.6 313.2L151.7 314.8L153.1 315.5L153.1 317.6L151.7 319.4L150.3 321.3L150.3 323.8L149.2 326.5L148.1 328.0L146.0 328.6L143.5 330.4L143.3 332.4L141.7 334.4L140.0 336.8L140.2 335.8L138.5 334.4L137.0 333.7L138.3 332.1L139.7 331.2L139.2 330.0L139.4 328.8L138.5 328.8L138.3 327.5L136.8 327.2L136.8 325.7L137.1 324.2L136.5 323.7L135.3 322.9L135.2 320.9L133.9 320.5L132.1 320.0L131.6 318.3L130.7 318.2L129.3 319.1L127.9 319.1L127.8 318.0L126.4 318.0L125.5 316.4L126.1 314.8L128.2 314.3L128.6 311.9L128.4 310.5L130.4 310.1L131.8 310.5L132.5 309.8L132.8 308.4L134.8 307.5L135.3 308.0L135.5 309.8L136.8 310.1L138.2 309.8L139.6 309.6L140.7 309.6Z" fill="#dc8a38"/>
<path d="M128.2 358.5L126.8 357.0L125.0 354.6L124.3 351.3L124.3 348.6L126.1 344.2L125.6 341.8L125.7 339.6L127.2 336.1L127.2 333.6L127.9 330.4L128.0 324.4L128.6 323.8L129.3 325.0L129.3 326.5L130.4 328.0L129.3 329.6L129.3 331.2L128.2 333.6L128.2 336.1L127.9 338.7L127.5 341.4L126.9 344.2L127.0 347.1L126.4 350.2L126.4 352.9L128.2 354.9L129.3 355.2L129.2 358.0Z" fill="#d8b840"/>
<path d="M198.6 279.1L200.4 279.0L201.8 278.2L202.9 278.2L204.0 278.9L205.4 279.2L207.5 278.7L207.7 277.8L206.4 276.9L204.7 275.6L204.2 275.0L205.0 273.8L205.7 273.0L205.2 273.0L203.2 273.8L202.9 274.6L203.8 275.1L203.1 275.4L202.0 275.9L201.2 274.9L201.8 274.3L200.6 273.7L199.8 273.9L199.1 275.0L198.4 276.3L197.9 277.3L197.8 277.9L198.1 278.7Z" fill="#0b1e33" stroke="none"/>
<path d="M212.8 274.0L214.3 273.2L215.7 273.5L215.8 275.0L214.4 275.7L213.8 276.0L214.6 277.1L215.3 277.8L215.3 278.7L216.3 279.2L215.7 280.6L216.3 282.7L215.0 283.1L213.6 282.5L212.8 281.7L213.1 280.6L213.8 279.8L213.0 279.0L212.5 278.3L211.8 277.3L211.4 275.8L211.8 274.8Z" fill="#0b1e33" stroke="none"/>
<path d="M112.6 273.5L114.7 272.2L116.5 271.4L117.7 272.5L117.8 273.8L116.1 273.8L114.0 273.6Z" fill="#0b1e33" stroke="none"/>
<path d="M115.6 278.2L116.6 278.2L116.7 276.3L117.6 274.5L116.8 274.3L115.6 275.8Z" fill="#0b1e33" stroke="none"/>
<path d="M117.9 274.3L120.0 274.3L121.1 275.3L119.9 277.1L119.3 277.3L118.6 276.3L118.8 275.1Z" fill="#0b1e33" stroke="none"/>
<path d="M118.8 278.4L121.8 277.5L121.8 277.3L120.0 277.6L118.8 277.9Z" fill="#0b1e33" stroke="none"/>
<path d="M121.3 277.0L123.7 276.7L123.6 276.1L121.8 276.4Z" fill="#0b1e33" stroke="none"/>
</g>
<rect x="154" y="365.6" width="105.5" height="6.8" rx="3.3" fill="url(#lg)"/>
<g font-family="Liberation Sans, sans-serif" font-size="6.4" fill="#e4e8ee"><text x="83" y="370.9">Average Water Risk</text><text x="147.4" y="371.6" font-size="6.9">1</text><text x="261.2" y="371.6" font-size="6.9">4</text></g>
</svg>
<svg class="abs" style="left:0;top:0" width="800" height="438" viewBox="0 0 800 438" font-family="Liberation Sans, sans-serif">
<g stroke="#213850" stroke-width="0.6" fill="none">
<path d="M373.30 250.30V322.94"/>
<path d="M382.40 250.30V322.94"/>
<path d="M391.49 250.30V322.94"/>
<path d="M400.59 250.30V322.94"/>
<path d="M409.68 250.30V322.94"/>
<path d="M418.78 250.30V322.94"/>
<path d="M427.87 250.30V322.94"/>
<path d="M436.97 250.30V322.94"/>
<path d="M446.06 250.30V322.94"/>
<path d="M455.16 250.30V322.94"/>
<path d="M464.25 250.30V322.94"/>
<path d="M473.35 250.30V322.94"/>
<path d="M482.44 250.30V322.94"/>
<path d="M491.54 250.30V322.94"/>
<path d="M500.63 250.30V322.94"/>
<path d="M509.73 250.30V322.94"/>
<path d="M518.83 250.30V322.94"/>
<path d="M527.92 250.30V322.94"/>
<path d="M537.02 250.30V322.94"/>
<path d="M546.11 250.30V322.94"/>
<path d="M555.21 250.30V322.94"/>
<path d="M564.30 250.30V322.94"/>
<path d="M573.40 250.30V322.94"/>
<path d="M582.49 250.30V322.94"/>
<path d="M591.59 250.30V322.94"/>
<path d="M600.68 250.30V322.94"/>
<path d="M609.78 250.30V322.94"/>
<path d="M618.87 250.30V322.94"/>
<path d="M627.97 250.30V322.94"/>
<path d="M637.07 250.30V322.94"/>
<path d="M646.16 250.30V322.94"/>
<path d="M655.26 250.30V322.94"/>
<path d="M664.35 250.30V322.94"/>
<path d="M673.45 250.30V322.94"/>
<path d="M682.54 250.30V322.94"/>
<path d="M691.64 250.30V322.94"/>
<path d="M700.73 250.30V322.94"/>
<path d="M709.83 250.30V322.94"/>
<path d="M718.92 250.30V322.94"/>
<path d="M728.02 250.30V322.94"/>
<path d="M737.11 250.30V322.94"/>
<path d="M746.21 250.30V322.94"/>
<path d="M755.30 250.30V322.94"/>
<path d="M764.40 250.30V322.94"/>
<path d="M373.30 250.30H765.40"/>
<path d="M373.30 259.38H765.40"/>
<path d="M373.30 268.46H765.40"/>
<path d="M373.30 277.54H765.40"/>
<path d="M373.30 286.62H765.40"/>
<path d="M373.30 295.70H765.40"/>
<path d="M373.30 304.78H765.40"/>
<path d="M373.30 313.86H765.40"/>
<path d="M373.30 322.94H765.40"/>
</g>
<rect x="382.70" y="250.60" width="8.50" height="8.48" fill="#e8392e"/>
<rect x="409.98" y="250.60" width="8.50" height="8.48" fill="#c0c83c"/>
<rect x="428.17" y="250.60" width="8.50" height="8.48" fill="#e8392e"/>
<rect x="455.46" y="250.60" width="8.50" height="8.48" fill="#c0c83c"/>
<rect x="473.65" y="250.60" width="8.50" height="8.48" fill="#e8392e"/>
<rect x="500.93" y="250.60" width="8.50" height="8.48" fill="#c0c83c"/>
<rect x="519.13" y="250.60" width="8.50" height="8.48" fill="#e8392e"/>
<rect x="546.41" y="250.60" width="8.50" height="8.48" fill="#c0c83c"/>
<rect x="637.37" y="250.60" width="8.50" height="8.48" fill="#c0c83c"/>
<rect x="737.41" y="250.60" width="8.50" height="8.48" fill="#e8392e"/>
<rect x="564.60" y="259.68" width="8.50" height="8.48" fill="#e8392e"/>
<rect x="600.98" y="259.68" width="8.50" height="8.48" fill="#c0c83c"/>
<rect x="619.17" y="259.68" width="8.50" height="8.48" fill="#e8392e"/>
<rect x="655.56" y="259.68" width="8.50" height="8.48" fill="#c0c83c"/>
<rect x="673.75" y="259.68" width="8.50" height="8.48" fill="#e8392e"/>
<rect x="701.03" y="259.68" width="8.50" height="8.48" fill="#c0c83c"/>
<rect x="719.22" y="259.68" width="8.50" height="8.48" fill="#e8392e"/>
<rect x="755.60" y="259.68" width="8.50" height="8.48" fill="#c0c83c"/>
<g fill="#e9edf2" font-size="6.9">
<text transform="translate(380.30 244.9) rotate(-90) scale(.915 1)">SAES1_118</text>
<text transform="translate(389.39 244.9) rotate(-90) scale(.915 1)">SAES1_119</text>
<text transform="translate(398.49 244.9) rotate(-90) scale(.915 1)">SAES1_120</text>
<text transform="translate(407.58 244.9) rotate(-90) scale(.915 1)">SAES1_121</text>
<text transform="translate(416.68 244.9) rotate(-90) scale(.915 1)">SAES1_122</text>
<text transform="translate(425.77 244.9) rotate(-90) scale(.915 1)">SAES1_123</text>
<text transform="translate(434.87 244.9) rotate(-90) scale(.915 1)">SAES1_124</text>
<text transform="translate(443.97 244.9) rotate(-90) scale(.915 1)">SAES1_125</text>
<text transform="translate(453.06 244.9) rotate(-90) scale(.915 1)">SAES1_126</text>
<text transform="translate(462.16 244.9) rotate(-90) scale(.915 1)">SAES1_127</text>
<text transform="translate(471.25 244.9) rotate(-90) scale(.915 1)">SAES1_128</text>
<text transform="translate(480.35 244.9) rotate(-90) scale(.915 1)">SAES1_129</text>
<text transform="translate(489.44 244.9) rotate(-90) scale(.915 1)">SAES1_130</text>
<text transform="translate(498.54 244.9) rotate(-90) scale(.915 1)">SAES1_131</text>
<text transform="translate(507.63 244.9) rotate(-90) scale(.915 1)">SAES1_132</text>
<text transform="translate(516.73 244.9) rotate(-90) scale(.915 1)">SAES1_133</text>
<text transform="translate(525.82 244.9) rotate(-90) scale(.915 1)">SAES1_134</text>
<text transform="translate(534.92 244.9) rotate(-90) scale(.915 1)">SAES1_135</text>
<text transform="translate(544.01 244.9) rotate(-90) scale(.915 1)">SAES1_136</text>
<text transform="translate(553.11 244.9) rotate(-90) scale(.915 1)">SAES1_137</text>
<text transform="translate(562.20 244.9) rotate(-90) scale(.915 1)">SAES1_138</text>
<text transform="translate(571.30 244.9) rotate(-90) scale(.915 1)">SAES1_139</text>
<text transform="translate(580.40 244.9) rotate(-90) scale(.915 1)">SAES1_17</text>
<text transform="translate(589.49 244.9) rotate(-90) scale(.915 1)">SAES1_174</text>
<text transform="translate(598.59 244.9) rotate(-90) scale(.915 1)">SAES1_175</text>
<text transform="translate(607.68 244.9) rotate(-90) scale(.915 1)">SAES1_176</text>
<text transform="translate(616.78 244.9) rotate(-90) scale(.915 1)">SAES1_177</text>
<text transform="translate(625.87 244.9) rotate(-90) scale(.915 1)">SAES1_178</text>
<text transform="translate(634.97 244.9) rotate(-90) scale(.915 1)">SAES1_179</text>
<text transform="translate(644.06 244.9) rotate(-90) scale(.915 1)">SAES1_18</text>
<text transform="translate(653.16 244.9) rotate(-90) scale(.915 1)">SAES1_180</text>
<text transform="translate(662.25 244.9) rotate(-90) scale(.915 1)">SAES1_181</text>
<text transform="translate(671.35 244.9) rotate(-90) scale(.915 1)">SAES1_182</text>
<text transform="translate(680.44 244.9) rotate(-90) scale(.915 1)">SAES1_183</text>
<text transform="translate(689.54 244.9) rotate(-90) scale(.915 1)">SAES1_184</text>
<text transform="translate(698.63 244.9) rotate(-90) scale(.915 1)">SAES1_185</text>
<text transform="translate(707.73 244.9) rotate(-90) scale(.915 1)">SAES1_186</text>
<text transform="translate(716.83 244.9) rotate(-90) scale(.915 1)">SAES1_187</text>
<text transform="translate(725.92 244.9) rotate(-90) scale(.915 1)">SAES1_188</text>
<text transform="translate(735.02 244.9) rotate(-90) scale(.915 1)">SAES1_189</text>
<text transform="translate(744.11 244.9) rotate(-90) scale(.915 1)">SAES1_19</text>
<text transform="translate(753.21 244.9) rotate(-90) scale(.915 1)">SAES1_190</text>
<text transform="translate(762.30 244.9) rotate(-90) scale(.915 1)">SAES1_191</text>
</g>
<g fill="#eef1f5" font-size="7.1" text-anchor="end">
<text x="369.3" y="257.24">2015</text>
<text x="369.3" y="266.32">2016</text>
<text x="369.3" y="275.40">2017</text>
<text x="369.3" y="284.48">2018</text>
<text x="369.3" y="293.56">2019</text>
<text x="369.3" y="302.64">2020</text>
<text x="369.3" y="311.72">2021</text>
<text x="369.3" y="320.80">2022</text>
</g>
<text x="569.5" y="203.6" font-size="6.5" fill="#aeb8c6" text-anchor="middle">Stationary Asset Name</text>
<text transform="translate(347.6 286.6) rotate(-90)" font-size="6.3" fill="#aeb8c6" text-anchor="middle">Period</text>
</svg>

<!-- bottom -->
<div class="t h2" style="left:37px;top:424px;color:#16224a">Water Treatments Methods</div>
<div class="t h2" style="left:293px;top:424px;color:#16224a">Water Activity</div>
<div class="abs" id="lstrip"></div>
</body></html>
